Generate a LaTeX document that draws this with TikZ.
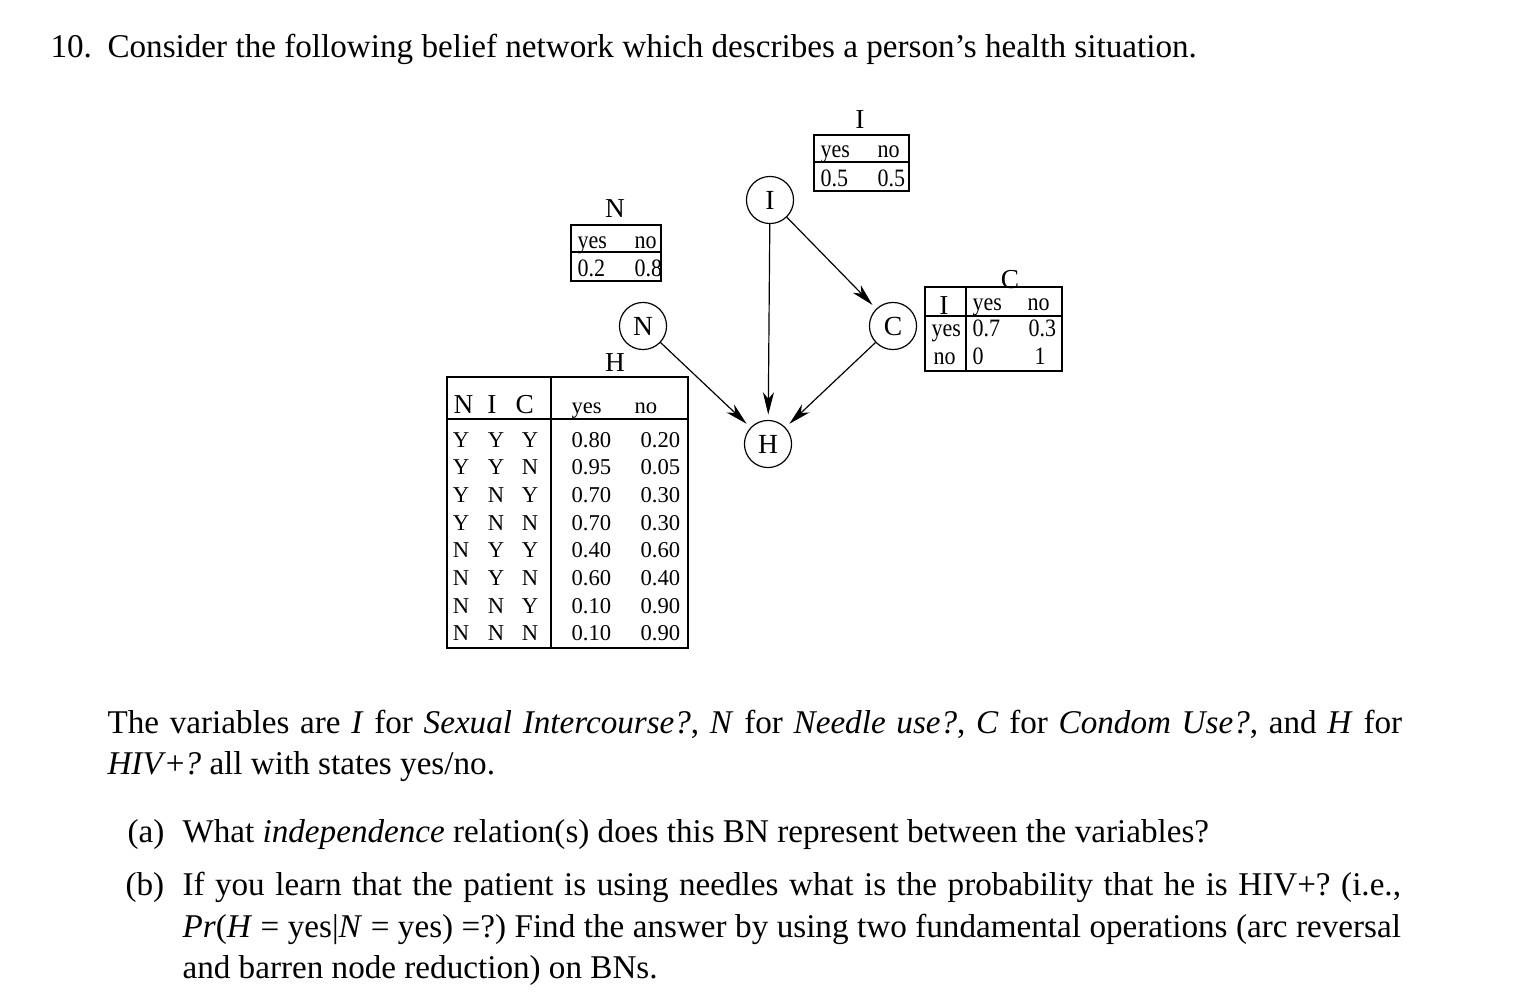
\documentclass[tikz,border=0pt]{standalone}
\usepackage{fontspec}
\setmainfont{Liberation Serif}
\newfontfamily\cptfont{Liberation Serif}[FakeStretch=0.88]
\usetikzlibrary{arrows.meta}
\frenchspacing

\tikzset{
  bnnode/.style={circle,draw,line width=0.45pt,minimum size=17.9pt,inner sep=0pt,font=\fontsize{10.5}{12}\selectfont},
  arr/.style={-{Stealth[length=8.5pt,width=4.2pt,inset=2.5pt]},line width=0.45pt,shorten >=2pt},
  txt/.style={anchor=base west,inner sep=0pt,font=\fontsize{12.6}{15}\selectfont},
  cpt/.style={anchor=base west,inner sep=0pt,font=\cptfont\fontsize{9.5}{11}\selectfont},
  cptc/.style={anchor=base,inner sep=0pt,font=\cptfont\fontsize{9.5}{11}\selectfont},
  hcpt/.style={anchor=base west,inner sep=0pt,font=\fontsize{8.6}{10}\selectfont},
  hcptc/.style={anchor=base,inner sep=0pt,font=\fontsize{8.6}{10}\selectfont},
  ttl/.style={anchor=base,inner sep=0pt,font=\fontsize{10.4}{12}\selectfont},
}

\begin{document}
\begin{tikzpicture}[x=0.38pt,y=-0.38pt]
  \useasboundingbox (0,0) rectangle (1524,1003);

  % Question
  \node[txt] (qnum) at (50,58) {10.};
  \node[txt] (qtxt) at (107,58) {Consider the following belief network which describes a person's health situation.};

  % Nodes
  \node[bnnode] (I) at (770,200) {I};
  \node[bnnode] (N) at (643,326) {N};
  \node[bnnode] (C) at (893,326) {C};
  \node[bnnode] (H) at (768,444) {H};

  % Arcs
  \draw[arr] (I) -- (C);
  \draw[arr] (I) -- (H);
  \draw[arr] (N) -- (H);
  \draw[arr] (C) -- (H);

  % Table I
  \node[ttl] (Ittl) at (860,128) {I};
  \draw[line width=0.45pt] (814,135) rectangle (909,191);
  \draw[line width=0.45pt] (814,162) -- (909,162);
  \node[cpt] (Iyes) at (820,157) {yes};
  \node[cpt] (Ino) at (877,157) {no};
  \node[cpt] (Ip1) at (820,186) {0.5};
  \node[cpt] (Ip2) at (877,186) {0.5};

  % Table N
  \node[ttl] (Nttl) at (615,217) {N};
  \draw[line width=0.45pt] (571,225) rectangle (661,281);
  \draw[line width=0.45pt] (571,252) -- (661,252);
  \node[cpt] (Nyes) at (577,248) {yes};
  \node[cpt] (Nno) at (634,248) {no};
  \node[cpt] (Np1) at (577,276) {0.2};
  \node[cpt] (Np2) at (634,276) {0.8};

  % Table C
  \node[ttl] (Cttl) at (1010,288) {C};
  \draw[line width=0.45pt] (925,287) rectangle (1062,371);
  \draw[line width=0.45pt] (925,316) -- (1062,316);
  \draw[line width=0.45pt] (966,287) -- (966,371);
  \node[ttl] (Cpar) at (944,314) {I};
  \node[cpt] (Cyes) at (972,310) {yes};
  \node[cpt] (Cno) at (1027,310) {no};
  \node[cpt] (Cr1) at (931,336) {yes};
  \node[cpt] (Cp11) at (972,336) {0.7};
  \node[cpt] (Cp12) at (1028,336) {0.3};
  \node[cpt] (Cr2) at (933,364) {no};
  \node[cpt] (Cp21) at (972,364) {0};
  \node[cptc] (Cp22) at (1040,364) {1};

  % Table H
  \node[ttl] (Httl) at (615,371) {H};
  \draw[line width=0.45pt] (447,377) rectangle (688,648);
  \draw[line width=0.45pt] (447,419) -- (688,419);
  \draw[line width=0.45pt] (551,377) -- (551,648);
  \node[ttl,anchor=base west] (HN) at (453,413) {N};
  \node[ttl] (HI) at (492,413) {I};
  \node[ttl,anchor=base west] (HC) at (515,413) {C};
  \node[hcpt] (Hyes) at (571,413) {yes};
  \node[hcpt] (Hno) at (634,413) {no};
  \foreach \a/\b/\c/\py/\pn [count=\k] in {Y/Y/Y/0.80/0.20, Y/Y/N/0.95/0.05, Y/N/Y/0.70/0.30, Y/N/N/0.70/0.30,
      N/Y/Y/0.40/0.60, N/Y/N/0.60/0.40, N/N/Y/0.10/0.90, N/N/N/0.10/0.90} {
    \node[hcptc] (h\k-n) at ({461},{419.3+27.7*\k}) {\a};
    \node[hcptc] (h\k-i) at ({496},{419.3+27.7*\k}) {\b};
    \node[hcptc] (h\k-c) at ({530},{419.3+27.7*\k}) {\c};
    \node[hcpt] (h\k-y) at ({571},{419.3+27.7*\k}) {\py};
    \node[hcpt] (h\k-x) at ({640},{419.3+27.7*\k}) {\pn};
  }

  % Text below
  \node[txt] (v1) at (107,733) {\makebox[492pt][s]{The variables are \textit{I} for \textit{Sexual Intercourse?}, \textit{N} for \textit{Needle use?}, \textit{C} for \textit{Condom Use?}, and \textit{H} for}};
  \node[txt] (v2) at (107,774) {\textit{HIV}+\textit{?} all with states yes/no.};
  \node[txt] (la) at (127,842) {(a)};
  \node[txt] (qa) at (182,842) {What \textit{independence} relation(s) does this BN represent between the variables?};
  \node[txt] (lb) at (125,895) {(b)};
  \node[txt] (qb1) at (182,895) {\makebox[463pt][s]{If you learn that the patient is using needles what is the probability that he is HIV+? (i.e.,}};
  \node[txt] (qb2) at (182,937) {\makebox[463pt][s]{\textit{Pr}(\textit{H} = yes|\textit{N} = yes) =?) Find the answer by using two fundamental operations (arc reversal}};
  \node[txt] (qb3) at (182,978) {and barren node reduction) on BNs.};
\end{tikzpicture}
\end{document}
